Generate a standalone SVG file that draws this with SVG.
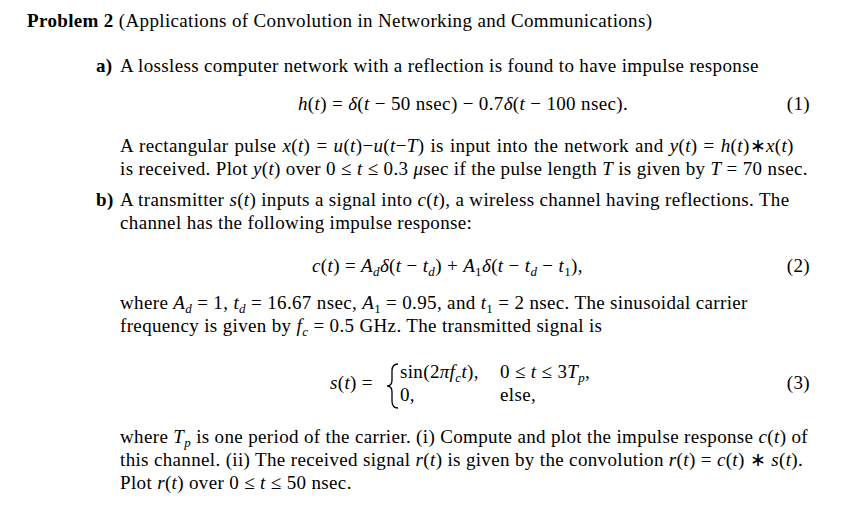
<svg xmlns="http://www.w3.org/2000/svg" width="848" height="518" viewBox="0 0 848 518">
<style>
text{font-family:"Liberation Serif","Times New Roman",serif;font-size:19px;letter-spacing:0.35px;fill:#000}
.b{font-weight:bold}
.i{font-style:italic}
.s{font-size:13px}
</style>
<rect width="848" height="518" fill="#fff"/>
<g id="title"><text x="27" y="27"><tspan class="b">Problem 2</tspan> (Applications of Convolution in Networking and Communications)</text></g>
<g id="parta">
<text x="96" y="72"><tspan class="b">a)</tspan></text>
<text x="120" y="72">A lossless computer network with a reflection is found to have impulse response</text>
<text x="298" y="110"><tspan class="i">h</tspan>(<tspan class="i">t</tspan>) = <tspan class="i">δ</tspan>(<tspan class="i">t</tspan> − 50 nsec) − 0.7<tspan class="i">δ</tspan>(<tspan class="i">t</tspan> − 100 nsec).</text>
<text x="810" y="110" text-anchor="end">(1)</text>
<text x="120" y="152" word-spacing="1">A rectangular pulse <tspan class="i">x</tspan>(<tspan class="i">t</tspan>) = <tspan class="i">u</tspan>(<tspan class="i">t</tspan>)−<tspan class="i">u</tspan>(<tspan class="i">t</tspan>−<tspan class="i">T</tspan>) is input into the network and <tspan class="i">y</tspan>(<tspan class="i">t</tspan>) = <tspan class="i">h</tspan>(<tspan class="i">t</tspan>)∗<tspan class="i">x</tspan>(<tspan class="i">t</tspan>)</text>
<text x="120" y="175">is received. Plot <tspan class="i">y</tspan>(<tspan class="i">t</tspan>) over 0 ≤ <tspan class="i">t</tspan> ≤ 0.3 <tspan class="i">μ</tspan>sec if the pulse length <tspan class="i">T</tspan> is given by <tspan class="i">T</tspan> = 70 nsec.</text>
</g>
<g id="partb">
<text x="96" y="206"><tspan class="b">b)</tspan></text>
<text x="120" y="206">A transmitter <tspan class="i">s</tspan>(<tspan class="i">t</tspan>) inputs a signal into <tspan class="i">c</tspan>(<tspan class="i">t</tspan>), a wireless channel having reflections. The</text>
<text x="120" y="229">channel has the following impulse response:</text>
<text x="312" y="272"><tspan class="i">c</tspan>(<tspan class="i">t</tspan>) = <tspan class="i">A</tspan><tspan class="i s" dy="4">d</tspan><tspan class="i" dy="-4">δ</tspan>(<tspan class="i">t</tspan> − <tspan class="i">t</tspan><tspan class="i s" dy="4">d</tspan><tspan dy="-4">) + </tspan><tspan class="i">A</tspan><tspan class="s" dy="4">1</tspan><tspan class="i" dy="-4">δ</tspan>(<tspan class="i">t</tspan> − <tspan class="i">t</tspan><tspan class="i s" dy="4">d</tspan><tspan dy="-4"> − </tspan><tspan class="i">t</tspan><tspan class="s" dy="4">1</tspan><tspan dy="-4">),</tspan></text>
<text x="810" y="272" text-anchor="end">(2)</text>
<text x="120" y="309">where <tspan class="i">A</tspan><tspan class="i s" dy="4">d</tspan><tspan dy="-4"> = 1, </tspan><tspan class="i">t</tspan><tspan class="i s" dy="4">d</tspan><tspan dy="-4"> = 16.67 nsec, </tspan><tspan class="i">A</tspan><tspan class="s" dy="4">1</tspan><tspan dy="-4"> = 0.95, and </tspan><tspan class="i">t</tspan><tspan class="s" dy="4">1</tspan><tspan dy="-4"> = 2 nsec. The sinusoidal carrier</tspan></text>
<text x="120" y="332">frequency is given by <tspan class="i">f</tspan><tspan class="i s" dy="4">c</tspan><tspan dy="-4"> = 0.5 GHz. The transmitted signal is</tspan></text>
<text x="330" y="389"><tspan class="i">s</tspan>(<tspan class="i">t</tspan>) =</text>
<path d="M398 364 Q392 364 392 371 L392 380 Q392 386 387 386 Q392 386 392 392 L392 401 Q392 408 398 408" fill="none" stroke="#000" stroke-width="1.3"/>
<text x="400" y="378">sin(2<tspan class="i">πf</tspan><tspan class="i s" dy="4">c</tspan><tspan class="i" dy="-4">t</tspan>),</text>
<text x="500" y="378">0 ≤ <tspan class="i">t</tspan> ≤ 3<tspan class="i">T</tspan><tspan class="i s" dy="4">p</tspan><tspan dy="-4">,</tspan></text>
<text x="400" y="401">0,</text>
<text x="500" y="401">else,</text>
<text x="810" y="389" text-anchor="end">(3)</text>
<text x="120" y="443">where <tspan class="i">T</tspan><tspan class="i s" dy="4">p</tspan><tspan dy="-4"> is one period of the carrier. (i) Compute and plot the impulse response </tspan><tspan class="i">c</tspan>(<tspan class="i">t</tspan>) of</text>
<text x="120" y="466">this channel. (ii) The received signal <tspan class="i">r</tspan>(<tspan class="i">t</tspan>) is given by the convolution <tspan class="i">r</tspan>(<tspan class="i">t</tspan>) = <tspan class="i">c</tspan>(<tspan class="i">t</tspan>) ∗ <tspan class="i">s</tspan>(<tspan class="i">t</tspan>).</text>
<text x="120" y="489">Plot <tspan class="i">r</tspan>(<tspan class="i">t</tspan>) over 0 ≤ <tspan class="i">t</tspan> ≤ 50 nsec.</text>
</g>
</svg>
